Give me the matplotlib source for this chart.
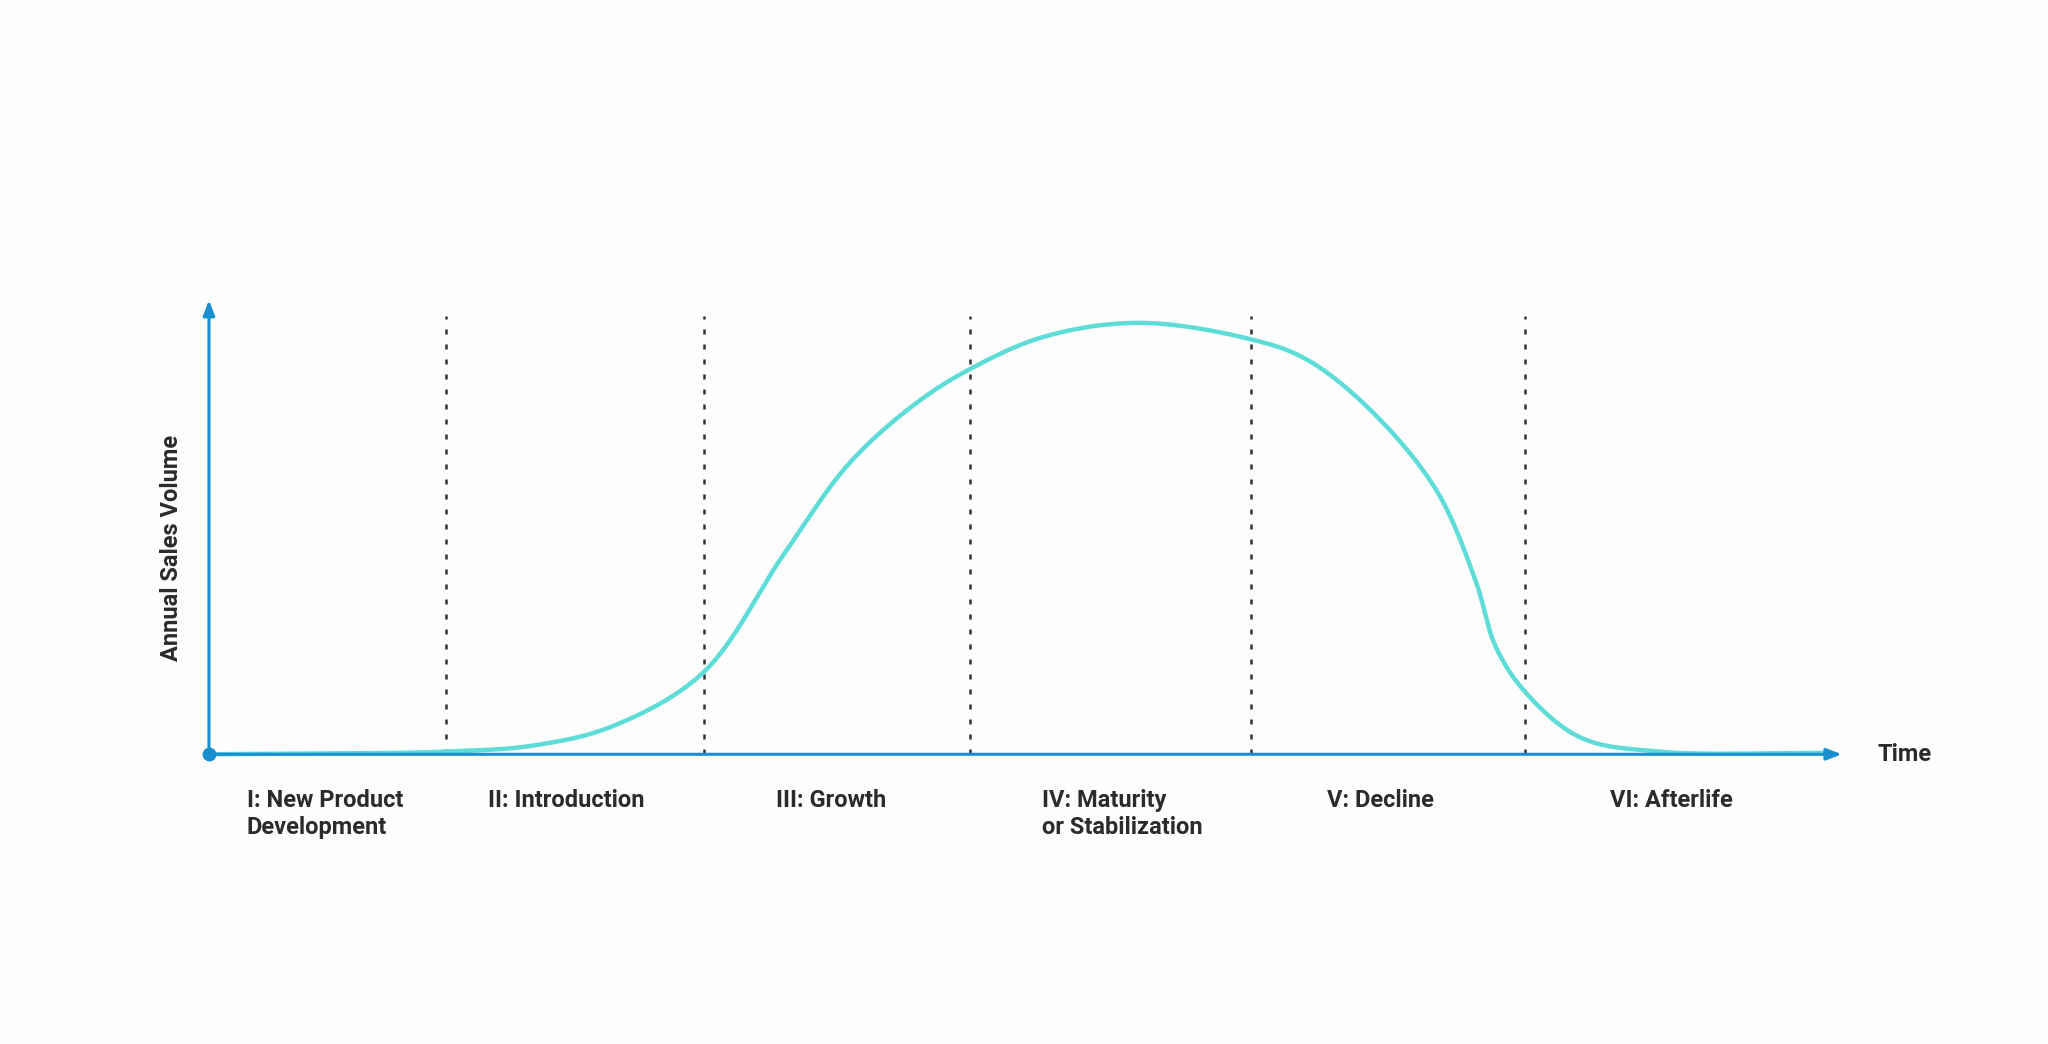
import numpy as np
import matplotlib
matplotlib.use("Agg")
import matplotlib.pyplot as plt

# Data (time units 0-100, sales volume 0-100)
curve_t = [0, 14.5, 20, 24.8, 30.3, 35.2, 39.2, 43.2, 46.6, 51.2, 57, 63.8, 67.2, 71.2, 75.2, 77.6, 78.8, 80.6, 84, 88.8, 99.2]
curve_v = [0, 0.6, 2, 6.3, 18.1, 44, 64, 77, 84.8, 92, 95, 91.4, 87, 75.6, 58, 38, 23.8, 13.8, 3.7, 0.6, 0.3]
stage_bounds = [14.5, 30.3, 46.6, 63.8, 80.6]
stage_labels = ["I: New Product\nDevelopment", "II: Introduction", "III: Growth",
                "IV: Maturity\nor Stabilization", "V: Decline", "VI: Afterlife"]
label_x = [2.3, 17.1, 34.7, 51.0, 68.5, 85.8]

def catmull(xs, ys, n=40, alpha=0.5, sx=12.5, sy=3.48):
    P = np.column_stack([np.array(xs)*sx, np.array(ys)*sy]).astype(float)
    P = np.vstack([2*P[0]-P[1], P, 2*P[-1]-P[-2]])
    out = []
    for i in range(1, len(P) - 2):
        p0, p1, p2, p3 = P[i-1], P[i], P[i+1], P[i+2]
        t0 = 0.0
        t1 = t0 + np.linalg.norm(p1-p0)**alpha
        t2 = t1 + np.linalg.norm(p2-p1)**alpha
        t3 = t2 + np.linalg.norm(p3-p2)**alpha
        t = np.linspace(t1, t2, n)[:, None]
        A1 = (t1-t)/(t1-t0)*p0 + (t-t0)/(t1-t0)*p1
        A2 = (t2-t)/(t2-t1)*p1 + (t-t1)/(t2-t1)*p2
        A3 = (t3-t)/(t3-t2)*p2 + (t-t2)/(t3-t2)*p3
        B1 = (t2-t)/(t2-t0)*A1 + (t-t0)/(t2-t0)*A2
        B2 = (t3-t)/(t3-t1)*A2 + (t-t1)/(t3-t1)*A3
        out.append((t2-t)/(t2-t1)*B1 + (t-t1)/(t2-t1)*B2)
    out = np.vstack(out)
    return out[:, 0]/sx, out[:, 1]/sy

fig = plt.figure(figsize=(20.48, 10.44), dpi=100, facecolor="#fdfdfd")
ax = fig.add_axes([160/1568, 1-578/800, 1250/1568, 348/800])
ax.set_xlim(0, 100); ax.set_ylim(0, 100)
ax.axis("off")
blue = "#1a8fd0"
fnt = dict(family=["Roboto", "DejaVu Sans"], weight="bold", color="#2b2b2b", fontsize=17)

for b in stage_bounds:
    ax.plot([b, b], [0, 96.5], ls=(0, (2, 4)), color="#333333", lw=1.8, clip_on=False)

xs, ys = catmull(curve_t, curve_v)
ax.plot(xs, ys, color="#5ddcd8", lw=3.2, clip_on=False, solid_capstyle="round")

ax.annotate("", xy=(100, 0), xytext=(0, 0),
            arrowprops=dict(arrowstyle="-|>,head_length=0.9,head_width=0.35", color=blue, lw=2.2, shrinkA=0, shrinkB=0))
ax.annotate("", xy=(0, 100), xytext=(0, 0),
            arrowprops=dict(arrowstyle="-|>,head_length=0.9,head_width=0.35", color=blue, lw=2.2, shrinkA=0, shrinkB=0))
ax.plot([0], [0], "o", color=blue, ms=9, clip_on=False)

for x, lab in zip(label_x, stage_labels):
    ax.text(x, -7.6, lab, ha="left", va="top", linespacing=1.25, **fnt)
ax.text(102.2, 0, "Time", ha="left", va="center", **fnt)
ax.text(-2.3, 45.4, "Annual Sales Volume", rotation=90, ha="center", va="center", **fnt)

fig.savefig("out.png", dpi=100, facecolor=fig.get_facecolor())
